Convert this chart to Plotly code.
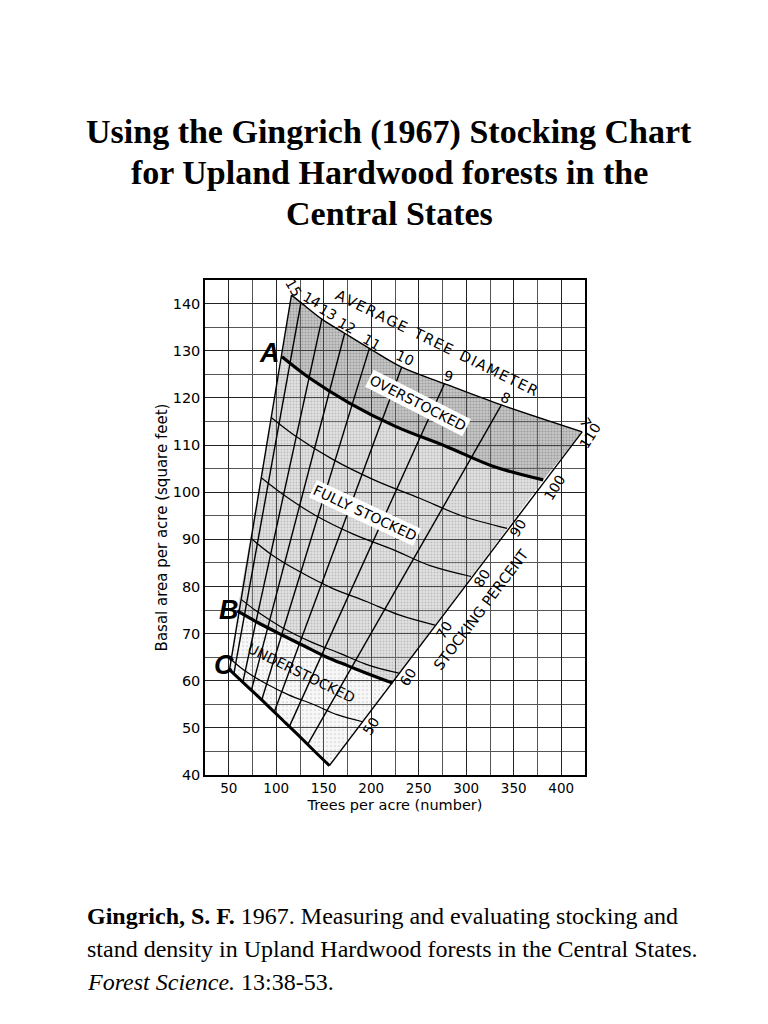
import plotly.graph_objects as go

# stocking chart lines (trees per acre, basal area sq ft)
top110_n = [116, 126, 148, 172, 198, 232, 277, 337, 422]
top110_ba = [141.8, 140.2, 136.7, 133.7, 130.5, 126.5, 123.0, 118.5, 112.8]

a_n = [106, 135, 177, 226, 279, 328, 381]
a_ba = [128.7, 124.2, 118.9, 113.9, 109.7, 105.5, 102.6]

p90_n = [95, 121, 159, 204, 251, 295, 343]
p90_ba = [115.8, 111.8, 107.0, 102.5, 98.7, 95.0, 92.3]
p80_n = [84.6, 108, 141, 181, 223, 262, 305]
p80_ba = [103.0, 99.4, 95.1, 91.1, 87.8, 84.4, 82.1]
p70_n = [74, 94, 124, 158, 195, 230, 267]
p70_ba = [90.1, 86.9, 83.2, 79.7, 76.8, 73.9, 71.8]
p60_n = [63.4, 81, 106, 136, 167, 197, 229]
p60_ba = [77.2, 74.5, 71.3, 68.3, 65.8, 63.3, 61.6]
p50_n = [53, 67, 88, 113, 140, 164, 191]
p50_ba = [64.4, 62.1, 59.5, 57.0, 54.9, 52.8, 51.3]

b_n = [59, 80, 106, 130, 152, 175, 195, 222.5]
b_ba = [74.8, 72.4, 69.7, 67.3, 65.1, 63.2, 61.6, 59.5]

c_n = [51, 70, 89, 110, 124, 140, 156]
c_ba = [62.3, 58.7, 55.1, 51.0, 48.3, 45.1, 42.0]

# average tree diameter lines (inches): bottom point on C line, top point on 110 line
diameters = [15, 14, 13, 12, 11, 10, 9, 8, 7]
diam_n_low = [50.7, 55.2, 64.6, 73.6, 84.4, 97.6, 113.4, 132.8, 156]
diam_ba_low = [62.2, 61.3, 59.5, 57.8, 55.7, 53.2, 50.1, 46.4, 42.0]
diam_n_high = [116, 126, 148, 172, 198, 232, 277, 337, 422]
diam_ba_high = [141.8, 140.2, 136.7, 133.7, 130.5, 126.5, 123.0, 118.5, 112.8]

pct_labels = ["110", "100", "90", "80", "70", "60", "50"]

x_ticks = [50, 100, 150, 200, 250, 300, 350, 400]
y_ticks = [40, 50, 60, 70, 80, 90, 100, 110, 120, 130, 140]

X0, X1 = 25, 425

fig = go.Figure()

# shaded zones
def zone(top_n, top_ba, bot_n, bot_ba, bg, fg, size, solid):
    fig.add_trace(go.Scatter(
        x=top_n + bot_n[::-1], y=top_ba + bot_ba[::-1],
        mode="lines", line=dict(width=0), fill="toself",
        fillcolor=bg,
        fillpattern=dict(shape=".", bgcolor=bg, fgcolor=fg, size=size, solidity=solid),
        hoverinfo="skip", showlegend=False))

zone(top110_n, top110_ba, a_n, a_ba, "rgba(115,115,115,0.4)", "rgba(30,30,30,0.5)", 3, 0.4)
zone(a_n, a_ba, b_n, b_ba, "rgba(155,155,155,0.3)", "rgba(50,50,50,0.4)", 3, 0.3)
zone(b_n, b_ba, c_n, c_ba, "rgba(215,215,215,0.2)", "rgba(70,70,70,0.45)", 4, 0.15)

# diameter lines
for i in range(len(diameters)):
    fig.add_trace(go.Scatter(
        x=[diam_n_low[i], diam_n_high[i]], y=[diam_ba_low[i], diam_ba_high[i]],
        mode="lines", line=dict(color="black", width=1.4),
        hoverinfo="skip", showlegend=False))

# stocking percent lines
for xs, ys, w in [(top110_n, top110_ba, 1.4), (p90_n, p90_ba, 1.2), (p80_n, p80_ba, 1.2),
                  (p70_n, p70_ba, 1.2), (p60_n, p60_ba, 1.2), (p50_n, p50_ba, 1.2),
                  (a_n, a_ba, 3.2), (b_n, b_ba, 3.2), (c_n, c_ba, 3.0)]:
    fig.add_trace(go.Scatter(
        x=xs, y=ys, mode="lines", line=dict(color="black", width=w, shape="spline"),
        hoverinfo="skip", showlegend=False))

lab_font = dict(family="DejaVu Sans", size=14, color="black")


def label(x, y, text, angle, font=lab_font, **kw):
    # paper x so labels past the right edge are still drawn
    fig.add_annotation(xref="paper", x=(x - X0) / (X1 - X0), y=y, text=text,
                       showarrow=False, textangle=angle, font=font,
                       xanchor="center", yanchor="middle", **kw)


# stocking percent labels at the right ends
pct_pos = [(430.3, 111.9), (393.4, 101.1), (354.5, 92.4), (316.6, 81.8),
           (276.6, 70.8), (238.7, 60.8), (199.7, 50.4)]
for t, (x, y) in zip(pct_labels, pct_pos):
    label(x, y, t, -58)

# diameter labels along the top
diam_pos = [(118.7, 143.4, 60), (138, 140.8, 30), (154.2, 138.2, 30), (174.8, 135.3, 30),
            (200.5, 131.9, 30), (235.5, 128.4, 25), (281.1, 124.6, 15), (341.8, 119.9, 25),
            (426, 114.7, 60)]
for d, (x, y, ang) in zip(diameters, diam_pos):
    label(x, y, str(d), ang)

hair = "\u200a"
big_font = dict(family="DejaVu Sans", size=14.5, color="black")
label(269, 131.6, hair.join("AVERAGE") + "  " + hair.join("TREE") + "  " + hair.join("DIAMETER"),
      26, big_font)
label(315.5, 75, "STOCKING PERCENT", -53, big_font)

for t, x, y, ang in [("OVERSTOCKED", 249.2, 118.9, 27), ("FULLY STOCKED", 193.4, 95.6, 25),
                     ("UNDERSTOCKED", 126.6, 61.7, 26)]:
    label(x, y, t, ang, dict(family="DejaVu Sans", size=14, color="black"),
          bgcolor="white" if t != "UNDERSTOCKED" else "rgba(0,0,0,0)", borderpad=1)

letter_font = dict(family="Liberation Sans Narrow, Liberation Sans", size=27, color="black")
for t, x, y in [("<b><i>A</i></b>", 93.4, 129.5), ("<b><i>B</i></b>", 50.3, 75),
                ("<b><i>C</i></b>", 45, 63.3)]:
    label(x, y, t, 0, letter_font)

# title and citation (page is offset 8px by the body margin)
title_font = dict(family="Liberation Serif", size=34, color="black")
for line, py in [("Using the Gingrich (1967) Stocking Chart", 132),
                 ("for Upland Hardwood forests in the", 173),
                 ("Central States", 213)]:
    fig.add_annotation(xref="paper", yref="paper", x=(389 - 205) / 380, y=(775 - py) / 495,
                       xanchor="center", yanchor="middle",
                       text="<b>" + line + "</b>", showarrow=False, font=title_font)

cite_font = dict(family="Liberation Serif", size=24, color="black")
for line, py in [("<b>Gingrich, S. F.</b> 1967. Measuring and evaluating stocking and", 916),
                 ("stand density in Upland Hardwood forests in the Central States.", 949),
                 ("<i>Forest Science.</i> 13:38-53.", 982)]:
    fig.add_annotation(xref="paper", yref="paper", x=(85 - 205) / 380, y=(775 - py) / 495,
                       xanchor="left", yanchor="middle", text=line, showarrow=False,
                       font=cite_font)

fig.update_xaxes(range=[X0, X1], tickvals=x_ticks, showgrid=True, gridcolor="#222",
                 gridwidth=1.2, minor=dict(tickvals=list(range(25, 426, 25)), showgrid=True,
                                           gridcolor="#555", gridwidth=1),
                 showline=True, mirror=True, linecolor="black", linewidth=1.5,
                 zeroline=False, ticks="",
                 tickfont=dict(family="DejaVu Sans", size=13.5, color="black"),
                 title=dict(text="Trees per acre (number)",
                            font=dict(family="DejaVu Sans", size=14.5, color="black"),
                            standoff=5),
                 automargin=False)
fig.update_yaxes(range=[40, 145], tickvals=y_ticks, showgrid=True, gridcolor="#222",
                 gridwidth=1.2, minor=dict(tickvals=list(range(40, 146, 5)), showgrid=True,
                                           gridcolor="#555", gridwidth=1),
                 showline=True, mirror=True, linecolor="black", linewidth=1.5,
                 zeroline=False, ticks="",
                 tickfont=dict(family="DejaVu Sans", size=14.5, color="black"),
                 title=dict(text="Basal area per acre (square feet)",
                            font=dict(family="DejaVu Sans", size=15, color="black"),
                            standoff=1),
                 automargin=False)

fig.update_layout(width=760, height=1016, autosize=False,
                  margin=dict(l=197, r=183, t=272, b=249),
                  plot_bgcolor="white", paper_bgcolor="white")

fig.write_html("out.html")
